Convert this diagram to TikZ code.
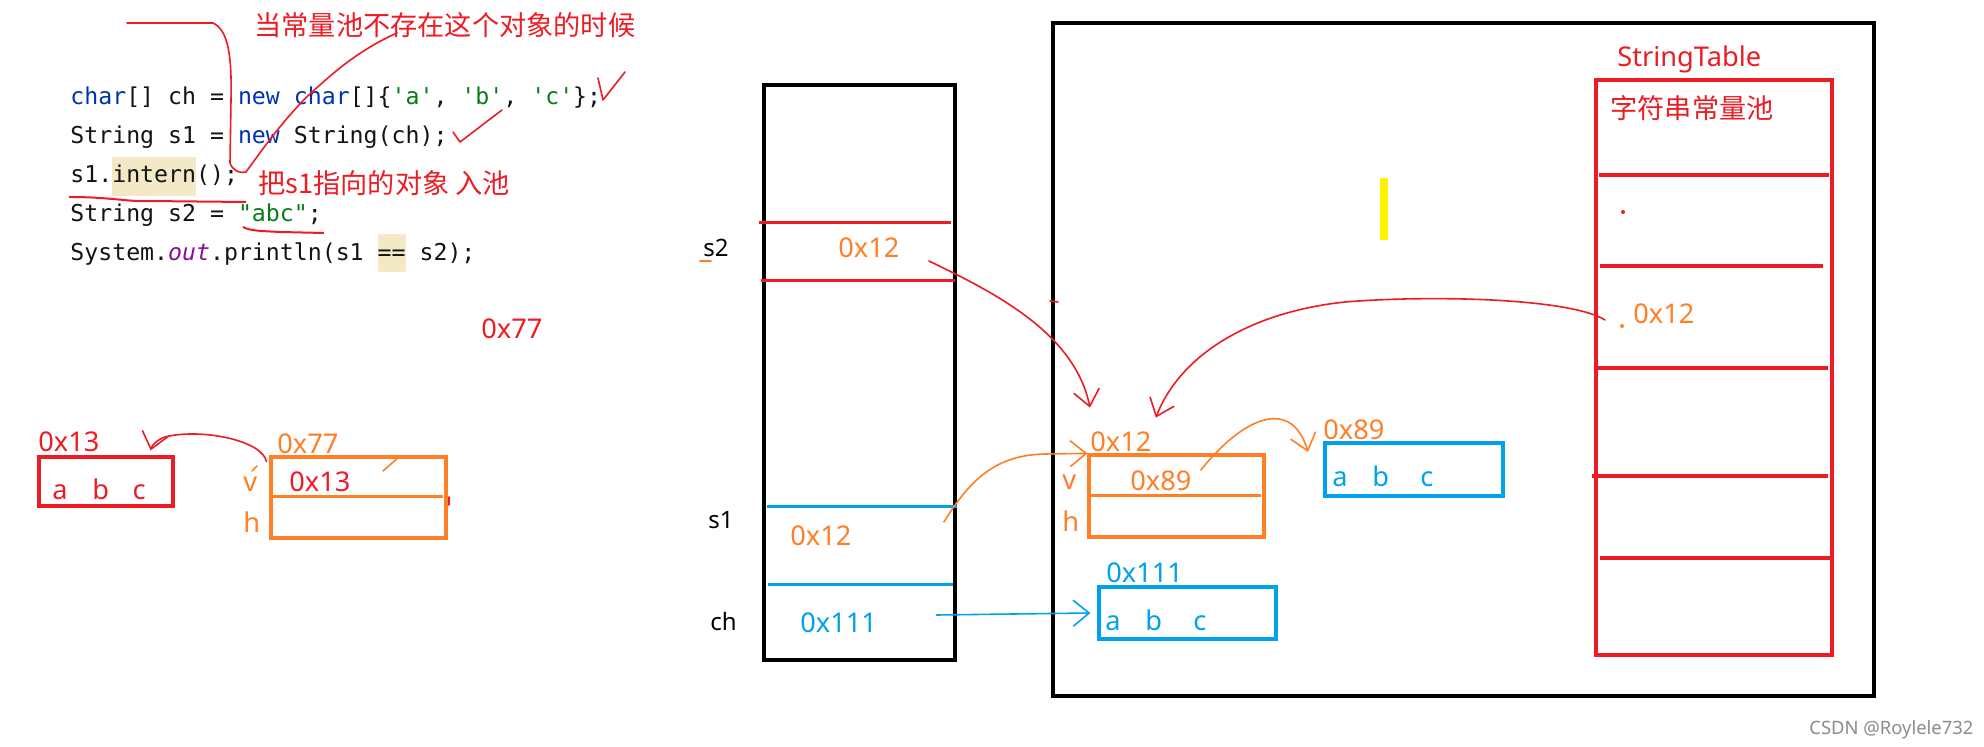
\documentclass[tikz,border=0pt]{standalone}
\usepackage{fontspec}
\setmainfont{Noto Sans}
\setmonofont{DejaVu Sans Mono}
\newfontfamily\cjk{Noto Sans CJK SC}
\usetikzlibrary{arrows.meta,positioning}
\definecolor{pred}{HTML}{ED1C24}
\definecolor{porange}{HTML}{FF7F27}
\definecolor{pblue}{HTML}{00A2E8}
\definecolor{pyellow}{HTML}{FFF200}
\definecolor{kwblue}{HTML}{0033B3}
\definecolor{strgreen}{HTML}{067D17}
\definecolor{fldpurple}{HTML}{871094}
\definecolor{hlbeige}{HTML}{F3E9C6}
\newcommand{\kwd}[1]{\textcolor{kwblue}{#1}}
\newcommand{\strlit}[1]{\textcolor{strgreen}{#1}}
\newcommand{\fld}[1]{\textcolor{fldpurple}{\itshape #1}}
\newcommand{\abc}[2]{a\hspace{#1}b\hspace{#2}c}

\begin{document}
\begin{tikzpicture}[
  x=0.5pt,
  y=-0.5pt,
  codeline/.style={font=\ttfamily\fontsize{11.6}{14}\selectfont, text=black!92, anchor=base west, inner sep=0pt},
  lbl/.style={font=\fontsize{13.6}{16}\selectfont, anchor=west, inner sep=0pt},
  note/.style={font=\cjk\fontsize{13.6}{16}\selectfont, text=pred, anchor=west, inner sep=0pt},
  varname/.style={font=\fontsize{12}{14}\selectfont, text=black, anchor=west, inner sep=0pt},
  mem/.style={draw=black, line width=1.75pt, inner sep=0pt},
  objbox/.style={line width=1.6pt, inner sep=0pt},
  slot/.style={line width=1.5pt},
  pen/.style={line width=0.8pt, line cap=round, line join=round},
  handtip/.style={-{Straight Barb[length=8pt,width=13pt]}}
]
\fill[white] (0,0) rectangle (1984,747);
\useasboundingbox (0,0) rectangle (1984,747);

% code
\fill[hlbeige] (112,157) rectangle (196,196);
\fill[hlbeige] (378,234) rectangle (406,272);
\node[codeline] (ln1) at (70,105) {\kwd{char}[] ch = \kwd{new} \kwd{char}[]\{\strlit{'a'}, \strlit{'b'}, \strlit{'c'}\};};
\node[codeline] (ln2) at (70,144) {String s1 = \kwd{new} String(ch);};
\node[codeline] (ln3) at (70,183) {s1.intern();};
\node[codeline] (ln4) at (70,222) {String s2 = \strlit{"abc"};};
\node[codeline] (ln5) at (70,261) {System.\fld{out}.println(s1 == s2);};

% notes
\node[note] (when) at (254,25) {当常量池不存在这个对象的时候};
\node[note] (intopool) at (258,183) {把s1指向的对象 入池};
\draw[pen, pred] (127,23) -- (213,23) .. controls (228,30) and (232,55) .. (231,100) -- (230,163) .. controls (232,170) and (240,174) .. (246,172);
\draw[pen, pred] (246,172) .. controls (262,150) and (290,110) .. (320,85) .. controls (345,62) and (370,45) .. (397,33);
\draw[pen, pred] (598,78) -- (603,100) -- (625,72);
\draw[pen, pred] (453,132) -- (460,142) -- (502,110);
\draw[pred, line width=1pt] (69,197) .. controls (110,197) and (130,202) .. (147,201) -- (246,202);
\draw[pred, line width=1pt] (243,227) .. controls (250,231) and (262,231) .. (280,232) -- (324,233);
\node[lbl, text=pred] (addr77) at (481,329) {0x77};

% char array and String object
\node[lbl, text=pred] (a13) at (38,442) {0x13};
\node[objbox, draw=pred, minimum width=67pt, minimum height=24.5pt] (arr13) at (106,481.5) {};
\node[lbl, text=pred, anchor=base west] (abc13) at (52,500) {\abc{12.4pt}{11.7pt}};
\node[lbl, text=porange] (a77) at (277,444) {0x77};
\node[objbox, draw=porange, minimum width=87.5pt, minimum height=40.5pt] (obj77) at (358.5,497.5) {};
\draw[porange, line width=1.5pt] (273,497) -- (443,497);
\node[lbl, text=porange, anchor=base west] (v77) at (243,492) {v};
\node[lbl, text=porange, anchor=base west] (h77) at (243,533) {h};
\node[lbl, text=pred] (p77) at (289,482) {0x13};
\draw[pen, porange] (252,471) -- (257,466);
\draw[pen, porange] (383,471) -- (400,456);
\draw[pen, pred] (449,497) -- (449,505);
\draw[pen, pred, handtip] ([xshift=-1.5pt,yshift=-3pt]obj77.north west) .. controls (262,440) and (200,428) .. (165,437) .. controls (157,440) and (152,445) .. ([xshift=-12pt,yshift=2.5pt]arr13.north east);

% stack
\node[mem, minimum width=95.5pt, minimum height=287.5pt] (stack) at (859.5,372.5) {};
\draw[slot, pred] (759,223) -- (951,223);
\draw[slot, pred] (761,281) -- (955,281);
\draw[slot, pblue] (767,507) -- (957,507);
\draw[slot, pblue] (768,585) -- (953,585);
\node[varname] (s2) at (703,248) {s2};
\draw[pen, porange] (700,261) -- (711,261);
\node[lbl, text=porange] (s2v) at (838,248) {0x12};
\node[varname] (s1) at (708,520) {s1};
\node[lbl, text=porange] (s1v) at (790,536) {0x12};
\node[varname] (ch) at (710,621) {ch};
\node[lbl, text=pblue] (chv) at (800,623) {0x111};

% heap
\node[mem, minimum width=410.5pt, minimum height=336.5pt] (heap) at (1463.5,359.5) {};
\draw[pyellow, line width=4pt] (1384,178) -- (1384,240);
\draw[pen, pred] (1050,301) -- (1058,302);
\node[lbl, text=porange] (a12) at (1090,442) {0x12};
\node[objbox, draw=porange, minimum width=87.5pt, minimum height=41pt] (obj12) at (1176.5,496) {};
\draw[porange, line width=1.5pt] (1091,496) -- (1261,496);
\node[lbl, text=porange, anchor=base west] (v12) at (1062,490) {v};
\node[lbl, text=porange, anchor=base west] (h12) at (1062,532) {h};
\node[lbl, text=porange] (p12) at (1130,481) {0x89};
\node[lbl, text=porange] (a89) at (1323,430) {0x89};
\node[objbox, draw=pblue, minimum width=89pt, minimum height=26.5pt] (arr89) at (1414,469.5) {};
\node[lbl, text=pblue, anchor=base west] (abc89) at (1332,487) {\abc{12.4pt}{15.6pt}};
\node[lbl, text=pblue] (a111) at (1106,573) {0x111};
\node[objbox, draw=pblue, minimum width=88.5pt, minimum height=26pt] (arr111) at (1187.5,613) {};
\node[lbl, text=pblue, anchor=base west] (abc111) at (1105,630) {\abc{12.4pt}{15.6pt}};

% string table
\node[lbl, text=pred] (sttitle) at (1617,59) {StringTable};
\node[objbox, draw=pred, minimum width=118pt, minimum height=287.5pt] (strtab) at (1714,367.5) {};
\foreach \y/\a/\b in {175/1599/1829, 266/1600/1823, 368/1594/1828, 476/1592/1828, 558/1600/1832}
  \draw[pred, line width=1.6pt] (\a,\y) -- (\b,\y);
\node[note] (pool) at (1610,108) {字符串常量池};
\fill[pred] (1623,212) circle (1pt);
\fill[porange] (1622,326) circle (1pt);
\node[lbl, text=porange] (entry) at (1633,314) {0x12};

% references
\draw[pen, pred, handtip] ([xshift=14.5pt,yshift=-6.5pt]s2v.east) .. controls (1000,295) and (1075,335) .. ([yshift=12pt]a12.north west);
\draw[pen, pred, handtip] ([xshift=-14pt,yshift=-3pt]entry.west) .. controls (1570,298) and (1430,295) .. (1345,302) .. controls (1250,312) and (1180,355) .. ([xshift=2pt,yshift=7pt]a12.north east);
\draw[pen, porange, handtip] ([xshift=46pt,yshift=7pt]s1v.east) .. controls (970,480) and (995,455) .. (1045,454) -- (obj12.north west);
\draw[pen, porange, handtip] ([xshift=4.5pt,yshift=5.5pt]p12.east) .. controls (1245,415) and (1292,398) .. ([xshift=-7.5pt,yshift=-11pt]a89.west);
\draw[pen, pblue, handtip] ([xshift=29.5pt,yshift=4pt]chv.east) -- ([xshift=-3.5pt]arr111.west);

\node[font=\fontsize{9.2}{11}\selectfont, text=black!45, anchor=west, inner sep=0pt] (mark) at (1809,730) {CSDN @Roylele732};
\end{tikzpicture}
\end{document}
